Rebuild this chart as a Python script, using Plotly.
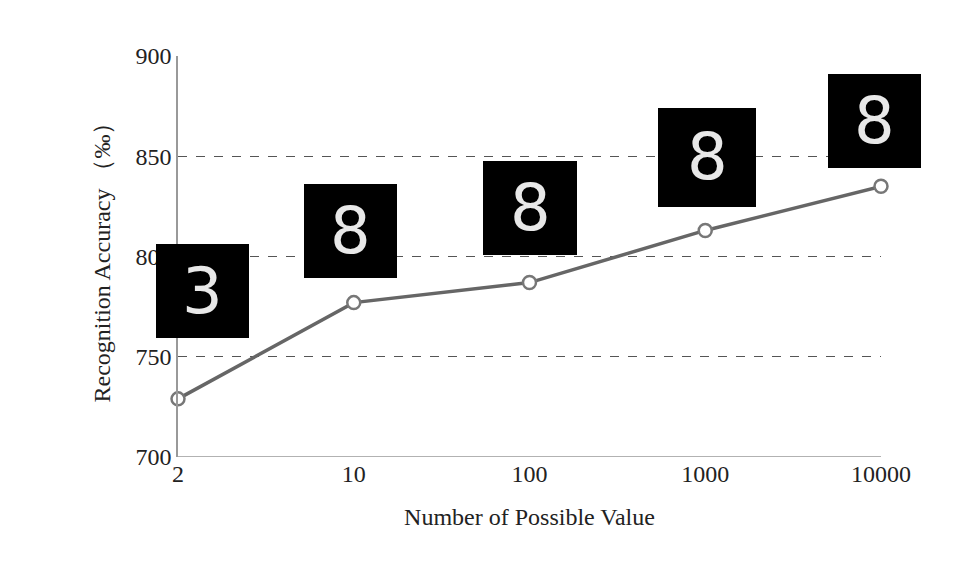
import plotly.graph_objects as go

categories = ["2", "10", "100", "1000", "10000"]
accuracy = [729, 777, 787, 813, 835]
digit_labels = ["3", "8", "8", "8", "8"]
y_ticks = [700, 750, 800, 850, 900]

# image boxes in pixel coords (x0, x1, y0_top, y1_bottom)
boxes = [(148, 241, 236, 330), (296, 389, 176, 270), (475, 569, 153, 247),
         (650, 748, 100, 199), (820, 913, 66, 160)]
L, R, T, B = 170, 873, 48, 449
def px(x): return (x - L) / (R - L)
def py(y): return (B - y) / (B - T)

fig = go.Figure(go.Scatter(
    x=list(range(len(categories))), y=accuracy, mode="lines+markers",
    line=dict(color="#666666", width=3.5),
    marker=dict(size=13, color="white", line=dict(color="#777777", width=2.5)),
    cliponaxis=False))

shapes, ann = [], []
for (x0, x1, y0, y1), d in zip(boxes, digit_labels):
    shapes.append(dict(type="rect", xref="paper", yref="paper", x0=px(x0), x1=px(x1),
                       y0=py(y1), y1=py(y0), fillcolor="black", line=dict(width=0), layer="above"))
    ann.append(dict(xref="paper", yref="paper", x=(px(x0)+px(x1))/2, y=(py(y0)+py(y1))/2,
                    xanchor="center", yanchor="middle", text=d, showarrow=False,
                    font=dict(family="DejaVu Sans", size=64, color="#e8e8e8")))

fig.update_layout(
    width=956, height=582, margin=dict(l=L, r=956-R, t=T, b=582-B, autoexpand=False),
    paper_bgcolor="white", plot_bgcolor="white", showlegend=False,
    font=dict(family="Liberation Serif", size=24, color="#222"),
    shapes=shapes, annotations=ann,
    xaxis=dict(range=[0, 4], tickvals=list(range(len(categories))), ticktext=categories,
               showgrid=False, showline=False, zeroline=False, ticks="", ticklen=10,
               tickcolor="white", tickfont=dict(size=24),
               title=dict(text="Number of Possible Value", standoff=22, font=dict(size=24))),
    yaxis=dict(range=[700, 900], tickvals=y_ticks, showgrid=True, griddash="dash",
               gridcolor="#555", gridwidth=1, showline=True, linecolor="#999", linewidth=1.5,
               zeroline=False, ticks="", ticklen=8, tickcolor="white", tickfont=dict(size=24),
               title=dict(text="Recognition Accuracy （‰）", standoff=18, font=dict(size=24))))
fig.add_shape(type="line", xref="paper", yref="y", x0=0, x1=1, y0=700, y1=700,
              line=dict(color="#999", width=1.5), layer="below")
fig.write_html("out.html")
